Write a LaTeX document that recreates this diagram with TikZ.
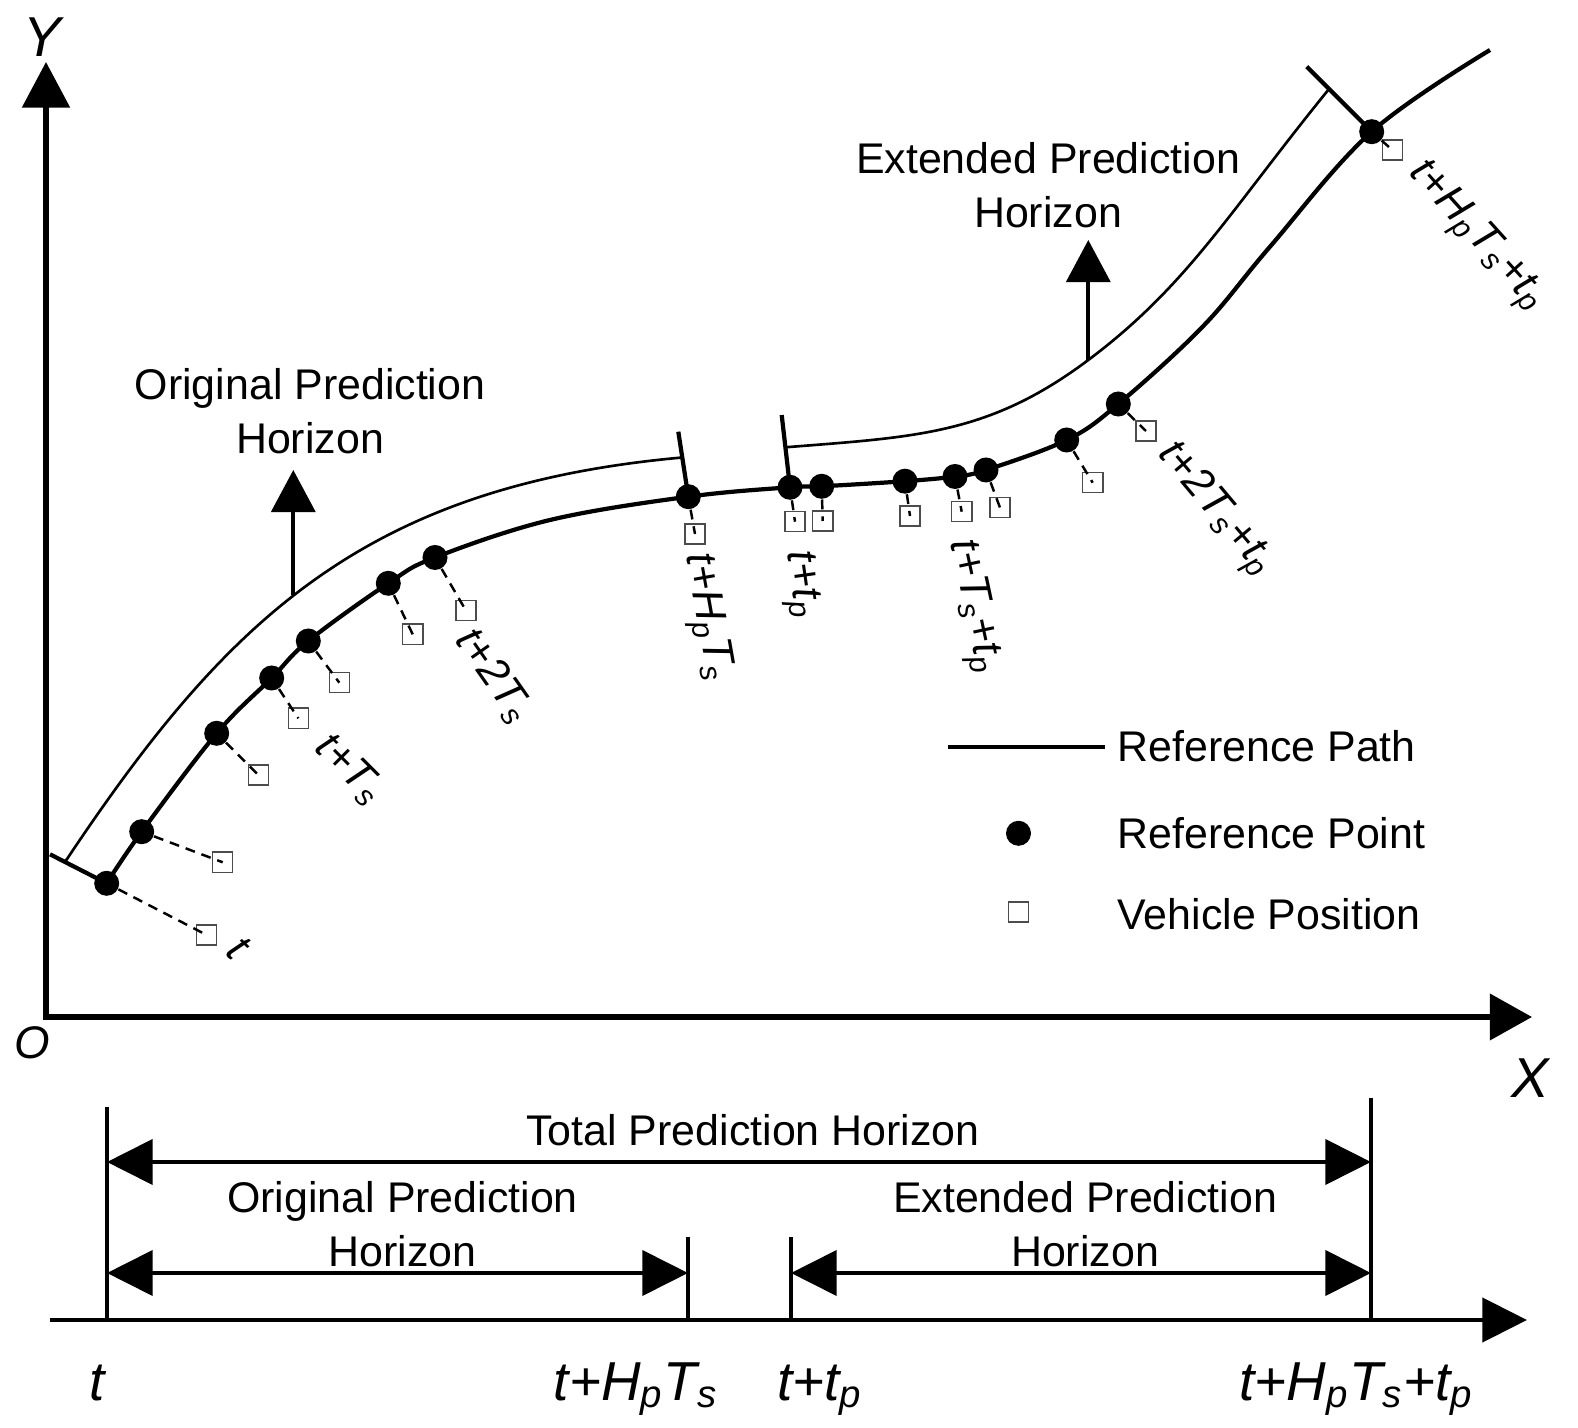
\documentclass[tikz,border=0pt]{standalone}
\usepackage{fontspec}
\setmainfont{Liberation Sans}
\usetikzlibrary{arrows.meta}
\newcommand\sbs[1]{\textsubscript{#1}}
\begin{document}
\begin{tikzpicture}[x=0.01cm,y=-0.01cm,
  txt/.style={font=\fontsize{12.2}{15.2}\selectfont, inner sep=0pt, align=center},
  lbl/.style={font=\fontsize{12.2}{14}\selectfont\itshape, inner sep=0pt},
  biglbl/.style={font=\fontsize{15.6}{18}\selectfont\itshape, inner sep=0pt, anchor=base},
  axlbl/.style={font=\fontsize{16}{18}\selectfont\itshape, inner sep=0pt},
  refpt/.style={circle, fill=black, inner sep=0pt, minimum size=0.25cm},
  vehpos/.style={rectangle, draw=black!70, line width=0.45pt, inner sep=0pt, minimum size=0.2cm},
  conn/.style={dash pattern=on 2.8pt off 2pt, line width=0.7pt},
  refpath/.style={line width=1.2pt},
  band/.style={line width=0.75pt},
  axis/.style={line width=1.5pt, line join=miter},
  tick/.style={line width=0.95pt},
  hor/.style={line width=1.2pt, {Triangle[length=13pt,width=12.8pt]}-{Triangle[length=13pt,width=12.8pt]}},
  uparrow/.style={line width=1.2pt, -{Triangle[length=12pt,width=12.5pt]}}
]
\useasboundingbox (0,0) rectangle (1578,1428);

% ---------- axes ----------
\coordinate (ytip) at (46,62);
\coordinate (org) at (46,1017);
\coordinate (xtip) at (1532,1017);
\draw[axis, {Triangle[length=13pt,width=13.4pt]}-{Triangle[length=12pt,width=13pt]}] (ytip) -- (org) -- (xtip);
\node[axlbl] (ylab) at (42,37) {Y};
\node[axlbl] (xlab) at (1530,1078) {X};
\node[axlbl, font=\fontsize{13}{15}\selectfont\itshape] (olab) at (32,1043) {O};

% ---------- reference path coordinates ----------
\coordinate (c1) at (106.7,883.3);
\coordinate (c2) at (141.7,831.7);
\coordinate (c3) at (216.7,733.3);
\coordinate (c4) at (271.7,678);
\coordinate (c5) at (308.3,641);
\coordinate (c6) at (388.3,583.3);
\coordinate (c7) at (435,557.5);
\coordinate (m1) at (550,520);
\coordinate (c8) at (688.3,496.7);
\coordinate (c9) at (790,487.3);
\coordinate (c10) at (821.7,486.3);
\coordinate (c11) at (905,481.2);
\coordinate (c12) at (955,476.5);
\coordinate (c13) at (986,470);
\coordinate (c14) at (1066.7,440);
\coordinate (c15) at (1118.3,404);
\coordinate (m2) at (1203.3,326);
\coordinate (m3) at (1270,246.7);
\coordinate (c16) at (1371.7,131.7);
\coordinate (m4) at (1490,50);

% original horizon band
\coordinate (ob0) at (65,862);
\coordinate (ob1) at (682.3,457.5);
\draw[band] (ob0) .. controls (225,622) and (362,486.3) .. (ob1);
% extended horizon band
\coordinate (eb0) at (785.4,447.3);
\coordinate (ebm) at (1088.3,360);
\coordinate (eb1) at (1329,89);
\draw[band] (eb0) .. controls (915.4,436.9) and (988.3,435) .. (ebm)
                  .. controls (1188.3,285) and (1229,212) .. (eb1);

% caps
\coordinate (cap1) at (50,854.3);
\coordinate (cap2) at (678.3,431.7);
\coordinate (cap3) at (781.7,415);
\coordinate (cap4) at (1306.7,66.7);
\draw[refpath] (cap1) -- (c1);
\draw[refpath] (cap2) -- (c8);
\draw[refpath] (cap3) -- (c9);
\draw[refpath] (cap4) -- (c16);

% reference path
\draw[refpath] plot[smooth, tension=0.6] coordinates {(c1) (c2) (c3) (c4) (c5) (c6) (c7) (m1) (c8) (c9) (c10) (c11) (c12) (c13) (c14) (c15) (m2) (m3) (c16) (m4)};

% upward arrows + labels
\coordinate (oa0) at (293.3,595.5);
\coordinate (oa1) at (293.3,470);
\draw[uparrow] (oa0) -- (oa1);
\coordinate (ea1) at (1088.3,240);
\draw[uparrow] (ebm) -- (ea1);
\node[txt] (origtop) at (310,411) {Original Prediction\\Horizon};
\node[txt] (exttop) at (1048,185) {Extended Prediction\\Horizon};

% reference points
\foreach \i in {1,...,16} { \node[refpt] (p\i) at (c\i) {}; }

% vehicle positions
\node[vehpos] (s1) at (206.7,935) {};
\node[vehpos] (s2) at (222.7,862.3) {};
\node[vehpos] (s3) at (258.3,775) {};
\node[vehpos] (s4) at (298.3,718.3) {};
\node[vehpos] (s5) at (339.3,682.7) {};
\node[vehpos] (s6) at (412.7,634.3) {};
\node[vehpos] (s7) at (466,610.7) {};
\node[vehpos] (s8) at (695,534) {};
\node[vehpos] (s9) at (795,521.7) {};
\node[vehpos] (s10) at (822.7,521) {};
\node[vehpos] (s11) at (910,516) {};
\node[vehpos] (s12) at (961.7,511.7) {};
\node[vehpos] (s13) at (1000,507.7) {};
\node[vehpos] (s14) at (1092.7,482.7) {};
\node[vehpos] (s15) at (1146,431) {};
\node[vehpos] (s16) at (1392.3,150) {};
\foreach \i in {1,...,16} { \draw[conn] (p\i) -- (s\i.center); }

% rotated labels
\node[lbl, rotate=-45] (l1) at (238.5,948) {t};
\node[lbl, rotate=-45] (l2) at (350,770) {t+T\sbs{s}};
\node[lbl, rotate=-55] (l3) at (494,676) {t+2T\sbs{s}};
\node[lbl, rotate=-80] (l4) at (706,618) {t+H\sbs{p}T\sbs{s}};
\node[lbl, rotate=-82] (l5) at (800,585) {t+t\sbs{p}};
\node[lbl, rotate=-78] (l6) at (973,607) {t+T\sbs{s}+t\sbs{p}};
\node[lbl, rotate=-50] (l7) at (1215,510) {t+2T\sbs{s}+t\sbs{p}};
\node[lbl, rotate=-48] (l8) at (1476.7,236.7) {t+H\sbs{p}T\sbs{s}+t\sbs{p}};

% legend
\coordinate (lg0) at (948,747);
\coordinate (lg1) at (1105,747);
\draw[refpath] (lg0) -- (lg1);
\node[txt, anchor=west] (lgt1) at (1117,746) {Reference Path};
\node[refpt] (lgdot) at (1018.5,833.3) {};
\node[txt, anchor=west] (lgt2) at (1117,833) {Reference Point};
\node[vehpos] (lgsq) at (1018.5,911.8) {};
\node[txt, anchor=west] (lgt3) at (1117,914) {Vehicle Position};

% ---------- time line ----------
\coordinate (tl0) at (50,1320);
\coordinate (tl1) at (1527,1320);
\draw[line width=1.3pt, -{Triangle[length=12.7pt,width=12.5pt]}] (tl0) -- (tl1);
\coordinate (k1a) at (107,1107);   \coordinate (k1b) at (107,1320);
\coordinate (k2a) at (688,1237);   \coordinate (k2b) at (688,1320);
\coordinate (k3a) at (791,1237);   \coordinate (k3b) at (791,1320);
\coordinate (k4a) at (1371,1098);  \coordinate (k4b) at (1371,1320);
\draw[tick] (k1a) -- (k1b);
\draw[tick] (k2a) -- (k2b);
\draw[tick] (k3a) -- (k3b);
\draw[tick] (k4a) -- (k4b);
\coordinate (ta0) at (107,1162);  \coordinate (ta1) at (1371,1162);
\coordinate (oa2) at (107,1273);  \coordinate (oa3) at (688,1273);
\coordinate (ea2) at (791,1273);  \coordinate (ea3) at (1371,1273);
\draw[hor] (ta0) -- (ta1);
\draw[hor] (oa2) -- (oa3);
\draw[hor] (ea2) -- (ea3);
\node[txt] (totl) at (753,1130) {Total Prediction Horizon};
\node[txt] (origb) at (402.6,1224) {Original Prediction\\Horizon};
\node[txt] (extb) at (1085,1224) {Extended Prediction\\Horizon};

\node[biglbl] (b1) at (97.6,1400) {t};
\node[biglbl] (b2) at (636,1400) {t+H\sbs{p}T\sbs{s}};
\node[biglbl] (b3) at (820,1400) {t+t\sbs{p}};
\node[biglbl] (b4) at (1356.6,1400) {t+H\sbs{p}T\sbs{s}+t\sbs{p}};
\end{tikzpicture}
\end{document}
